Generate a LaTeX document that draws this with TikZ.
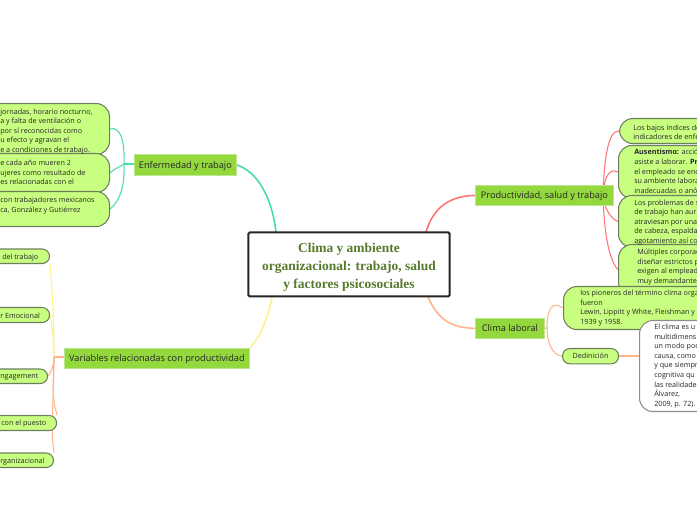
\documentclass[tikz,border=0pt]{standalone}
\usepackage{fontspec}
\setmainfont{Open Sans}
\newfontfamily\mainserif{Liberation Serif}
\usetikzlibrary{backgrounds}
\definecolor{kidfill}{HTML}{C8FF80}
\definecolor{kidline}{HTML}{6E7F5E}
\definecolor{branchfill}{HTML}{93D83D}
\definecolor{branchline}{HTML}{BCE78F}
\definecolor{titlegreen}{HTML}{557A2B}
\definecolor{linkteal}{HTML}{4BD9AE}
\definecolor{linkcoral}{HTML}{FF7474}
\definecolor{linkpeach}{HTML}{FFB48C}
\definecolor{linkyellow}{HTML}{FFF08C}
\tikzset{
    kidbox/.style={draw=kidline,fill=kidfill,line width=0.8pt,rounded corners=10pt,inner sep=0pt},
    pillbox/.style={kidbox,rounded corners=5.5pt},
    kidtext/.style={anchor=west,align=left,inner sep=0pt,yshift=-1.1pt,font=\fontsize{5.4}{7.2}\selectfont,text=black!85},
    branchbox/.style={draw=branchline,fill=branchfill,line width=0.6pt,inner sep=0pt,anchor=north west,font=\fontsize{6.9}{8.4}\selectfont,text=black!85},
    link/.style={line width=0.8pt},
    stem/.style={line width=1.5pt},
}
\newcommand{\kidshape}[6][kidbox]{\node[#1,minimum width={(#5-#3)*0.75pt},minimum height={(#6-#4)*0.75pt},anchor=north west] (#2) at (#3,#4) {};}
\newcommand{\branchshape}[6]{\node[branchbox,minimum width={(#5-#3)*0.75pt},minimum height={(#6-#4)*0.75pt}] (#2) at (#3,#4) {\raisebox{-2.6pt}[0pt][0pt]{#1}};}
\begin{document}
\begin{tikzpicture}[x=0.75pt,y=-0.75pt]
    \useasboundingbox (0,0) rectangle (697,520);
    % centre
    \node[draw=black!85,fill=white,line width=1.5pt,rounded corners=1pt,minimum width=151pt,minimum height=48pt,inner sep=0pt] (clima) at (349,264.5) {};
    \node[align=center,inner sep=0pt,font=\mainserif\bfseries\fontsize{10.1}{13.6}\selectfont,text=titlegreen] (climatext) at (349,267.5) {Clima y ambiente\\organizacional: trabajo, salud\\y factores psicosociales};
    \coordinate (climaEnf) at (276,232);
    \coordinate (climaVar) at (272,297);
    \coordinate (climaProd) at (426,232);
    \coordinate (climaLab) at (428,297);
    % branches
    \branchshape{Enfermedad y trabajo}{enf}{134}{154}{236}{175}
    \branchshape{Variables relacionadas con productividad}{var}{64}{348}{249}{368}
    \branchshape{Productividad, salud y trabajo}{prod}{475}{185}{613}{205}
    \branchshape{Clima laboral}{lab}{475}{318}{544}{338}
    \coordinate (enfHub) at (124,164);
    \coordinate (varHub) at (54,357);
    \coordinate (prodHub) at (603,195);
    \coordinate (labHub) at (547,328);
    % left boxes
    \kidshape{enfA}{-30}{103}{109}{154}
    \kidshape{enfB}{-30}{153}{109}{192}
    \kidshape{enfC}{-30}{191}{109}{226}
    \node[kidtext] (enfAtext) at (0,130) {jornadas, horario nocturno,\\a y falta de ventilación o\\por sí reconocidas como\\u efecto y agravan el\\e a condiciones de trabajo.};
    \node[kidtext] (enfBtext) at (0,171) {e cada año mueren 2\\ujeres como resultado de\\es relacionadas con el};
    \node[kidtext] (enfCtext) at (0,204) {con trabajadores mexicanos\\ca, González y Gutiérrez};
    \kidshape[pillbox]{varA}{-30}{248.5}{49}{263}
    \kidshape[pillbox]{varB}{-30}{307}{49}{322}
    \kidshape[pillbox]{varC}{-30}{368.5}{47}{383}
    \kidshape[pillbox]{varD}{-30}{415}{56}{430}
    \kidshape[pillbox]{varE}{-30}{452.5}{53}{467}
    \node[kidtext] (varAtext) at (2,256) {del trabajo};
    \node[kidtext] (varBtext) at (0,314.5) {r Emocional};
    \node[kidtext] (varCtext) at (0,376) {ngagement};
    \node[kidtext] (varDtext) at (1,422.5) {con el puesto};
    \node[kidtext] (varEtext) at (0,460) {rganizacional};
    % right boxes
    \kidshape{prodA}{619}{118}{730}{143}
    \kidshape{prodB}{618}{145}{730}{198}
    \kidshape{prodC}{618}{195}{730}{247}
    \kidshape{prodD}{618}{244}{730}{295}
    \node[kidtext] (prodAtext) at (633,131) {Los bajos índices de\\indicadores de enfe};
    \node[kidtext] (prodBtext) at (634,170) {\textbf{Ausentismo:} acción\\asiste a laborar. \textbf{Pre}\\el empleado se enc\\su ambiente labora\\inadecuadas o anó};
    \node[kidtext] (prodCtext) at (634,221) {Los problemas de s\\de trabajo han aur\\atraviesan por una\\de cabeza, espalda\\agotamiento así co};
    \node[kidtext] (prodDtext) at (637,265.5) {Múltiples corporac\\diseñar estrictos p\\exigen al emplead\\muy demandantes};
    \kidshape{labA}{563}{286}{730}{329}
    \node[kidtext] (labAtext) at (580,306.5) {los pioneros del término clima orga\\fueron\\Lewin, Lippitt y White, Fleishman y\\1939 y 1958.};
    \node[pillbox,minimum width=42pt,minimum height=11.5pt,anchor=north west,font=\fontsize{5.4}{7.2}\selectfont,text=black!85] (labB) at (562,348) {\raisebox{-1.9pt}[0pt][0pt]{Dedinición}};
    \kidshape[kidbox,fill=white,draw=black!45]{labC}{639}{320}{730}{411}
    \node[kidtext] (labCtext) at (654,364.5) {El clima es u\\multidimens\\un modo poc\\causa, como\\y que siempr\\cognitiva qu\\las realidade\\Álvarez,\\2009, p. 72).};
    % connectors
    \begin{scope}[on background layer]
        \draw[link,linkteal,line width=1.2pt] (enf.east) .. controls (258,172) and (272,198) .. (climaEnf);
        \draw[link,linkyellow,line width=1.2pt] (var.north east) .. controls (258,340) and (268,320) .. (climaVar);
        \draw[link,linkcoral,line width=1.2pt] (prod.west) .. controls (445,196) and (432,212) .. (climaProd);
        \draw[link,linkpeach,line width=1.2pt] (lab.west) .. controls (452,328) and (438,320) .. (climaLab);
        \draw[stem,linkteal] (enf.west |- enfHub) -- (enfHub);
        \draw[link,linkteal] (enfHub) .. controls (125,140) and (120,126) .. (enfA.east);
        \draw[link,linkteal] (enfHub) .. controls (120,167) and (115,168) .. (enfB.east);
        \draw[link,linkteal] (enfHub) .. controls (125,186) and (120,201) .. (enfC.east);
        \draw[stem,linkpeach,line width=1pt] (var.west |- varHub) -- (varHub);
        \draw[link,linkyellow] (varHub) .. controls (54,320) and (52,285) .. (varA.south east);
        \draw[link,linkyellow] (varHub) .. controls (54,340) and (52,325) .. (varB.east);
        \draw[link,linkpeach] (varHub) .. controls (54,365) and (52,370) .. (varC.east);
        \draw[link,linkpeach] (varHub) .. controls (53,385) and (52,400) .. (varD.north east);
        \draw[link,linkpeach] (varHub) .. controls (54,400) and (50,430) .. (varE.north east);
        \draw[stem,linkcoral,line width=1pt] (prod.east) -- (prodHub);
        \draw[link,linkcoral] (prodHub) .. controls (604,160) and (608,130) .. (prodA.west);
        \draw[link,linkcoral] (prodHub) .. controls (604,180) and (608,167) .. (prodB.west);
        \draw[link,linkcoral] (prodHub) .. controls (604,205) and (608,217) .. (prodC.west);
        \draw[link,linkcoral] (prodHub) .. controls (604,230) and (608,258) .. (prodD.west);
        \draw[stem,linkpeach,line width=1pt] (lab.east) -- (labHub);
        \draw[link,linkpeach] (labHub) .. controls (547,310) and (552,300) .. (labA.west);
        \draw[link,linkpeach] (labHub) .. controls (547,342) and (552,355) .. (labB.west);
        \draw[link,linkpeach,line width=1.2pt] (labB.east) -- (labC.west |- labB.east);
    \end{scope}
\end{tikzpicture}
\end{document}
